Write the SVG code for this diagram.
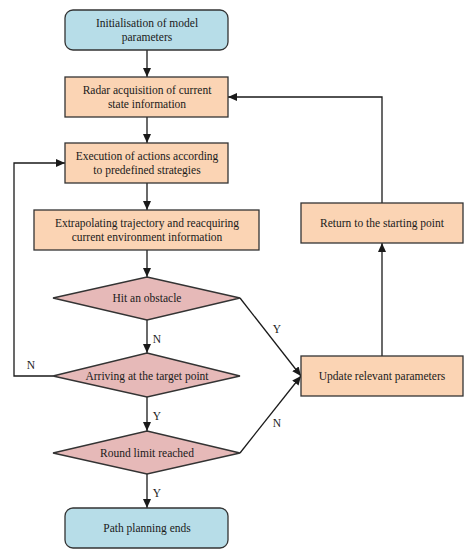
<svg xmlns="http://www.w3.org/2000/svg" width="474" height="558" viewBox="0 0 474 558">
<style>
text{font-family:"Liberation Serif","Times New Roman",serif;font-size:11.5px;fill:#1a1a1a;text-anchor:middle;dominant-baseline:central}
.blue{fill:#b7dde8;stroke:#333;stroke-width:1.3}
.orange{fill:#fbd4b4;stroke:#333;stroke-width:1.3}
.pink{fill:#e6b9b8;stroke:#333;stroke-width:1.3}
.c{fill:none;stroke:#1a1a1a;stroke-width:1.3;marker-end:url(#ah)}
.l{fill:none;stroke:#1a1a1a;stroke-width:1.3}
</style>
<defs>
<marker id="ah" markerWidth="10" markerHeight="10" refX="9" refY="5" orient="auto" markerUnits="userSpaceOnUse">
<path d="M0,1 L9,5 L0,9 z" fill="#1a1a1a"/>
</marker>
</defs>
<rect width="474" height="558" fill="#fff"/>
<g id="connectors">
<path class="c" d="M147,50 V77"/>
<path class="c" d="M147,117 V143"/>
<path class="c" d="M147,183 V210"/>
<path class="c" d="M147,250 V277"/>
<path class="c" d="M147,320 V353"/>
<path class="c" d="M147,397 V431"/>
<path class="c" d="M147,474 V508"/>
<path class="c" d="M53,376 H14 V163 H65"/>
<path class="c" d="M240,298 L301,376"/>
<path class="c" d="M240,453 L301,376"/>
<path class="c" d="M382,356 V243"/>
<path class="c" d="M382,203 V97 H228"/>
<text x="157" y="339">N</text>
<text x="157" y="416">Y</text>
<text x="157" y="493">Y</text>
<text x="31" y="365">N</text>
<text x="277" y="329">Y</text>
<text x="277" y="423">N</text>
</g>
<g id="init">
<rect class="blue" x="65" y="10" width="163" height="40" rx="8"/>
<text x="147" y="23">Initialisation of model</text>
<text x="147" y="37">parameters</text>
</g>
<g id="radar">
<rect class="orange" x="65" y="77" width="163" height="40"/>
<text x="147" y="90">Radar acquisition of current</text>
<text x="147" y="104">state information</text>
</g>
<g id="execution">
<rect class="orange" x="65" y="143" width="163" height="40"/>
<text x="147" y="156">Execution of actions according</text>
<text x="147" y="170">to predefined strategies</text>
</g>
<g id="extrapolating">
<rect class="orange" x="34" y="210" width="225" height="40"/>
<text x="147" y="223">Extrapolating trajectory and reacquiring</text>
<text x="147" y="237">current environment information</text>
</g>
<g id="hit">
<polygon class="pink" points="147,277 240,298 147,320 53,298"/>
<text x="147" y="298">Hit an obstacle</text>
</g>
<g id="arriving">
<polygon class="pink" points="147,353 240,376 147,397 53,376"/>
<text x="147" y="376">Arriving at the target point</text>
</g>
<g id="round">
<polygon class="pink" points="147,431 240,453 147,474 53,453"/>
<text x="147" y="453">Round limit reached</text>
</g>
<g id="end">
<rect class="blue" x="65" y="508" width="163" height="40" rx="8"/>
<text x="147" y="528">Path planning ends</text>
</g>
<g id="return">
<rect class="orange" x="301" y="203" width="162" height="40"/>
<text x="382" y="223">Return to the starting point</text>
</g>
<g id="update">
<rect class="orange" x="301" y="356" width="162" height="40"/>
<text x="382" y="376">Update relevant parameters</text>
</g>
</svg>
